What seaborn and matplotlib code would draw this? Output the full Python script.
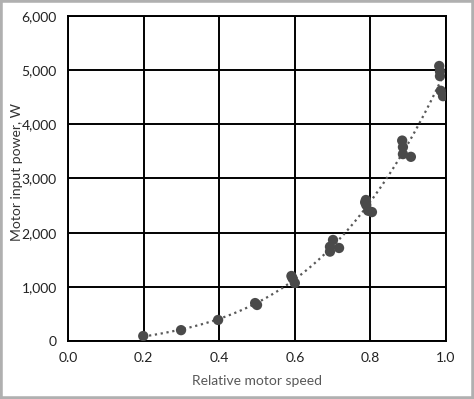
import numpy as np
import pandas as pd
import matplotlib
matplotlib.use('Agg')
import matplotlib.pyplot as plt
import seaborn as sns
from matplotlib.patches import Rectangle
from matplotlib.ticker import FuncFormatter, MultipleLocator

# ── Data ─────────────────────────────────────────────────────────────────────
speed = [0.199, 0.299, 0.397, 0.495, 0.500,
         0.591, 0.594, 0.600,
         0.693, 0.701, 0.693, 0.717,
         0.786, 0.788, 0.789, 0.794, 0.804,
         0.884, 0.886, 0.886, 0.907,
         0.982, 0.984, 0.984, 0.986, 0.992]
power = [92, 200, 388, 700, 665,
         1200, 1157, 1070,
         1740, 1865, 1650, 1717,
         2560, 2603, 2510, 2405, 2380,
         3700, 3580, 3450, 3400,
         5077, 4980, 4890, 4620, 4520]

df = pd.DataFrame({'speed': speed, 'power': power})

sns.set_theme(style='white')
plt.rcParams['font.family'] = ['Lato', 'DejaVu Sans']

fig = plt.figure(figsize=(4.74, 3.99), dpi=100)
ax = fig.add_axes([0.1435, 0.1454, 0.7975, 0.8145])

ax.grid(True, color='black', linewidth=1.4)
ax.set_axisbelow(True)

# cubic trendline, dotted
sns.regplot(data=df, x='speed', y='power', order=3, ci=None, scatter=False,
            ax=ax, line_kws={'color': '#595959', 'linestyle': ':', 'linewidth': 1.6})
sns.scatterplot(data=df, x='speed', y='power', ax=ax, color='#4a4a4a',
                s=55, edgecolor='none', zorder=3)

ax.set_xlim(0, 1.0)
ax.set_ylim(0, 6000)
ax.xaxis.set_major_locator(MultipleLocator(0.2))
ax.yaxis.set_major_locator(MultipleLocator(1000))
ax.xaxis.set_major_formatter(FuncFormatter(lambda v, p: f'{v:.1f}'))
ax.yaxis.set_major_formatter(FuncFormatter(lambda v, p: f'{v:,.0f}'))
ax.tick_params(axis='both', length=0, labelsize=10, colors='#222222', pad=8)

for s in ax.spines.values():
    s.set_color('black')
    s.set_linewidth(1.4)

ax.set_xlabel('Relative motor speed', fontsize=10, color='#595959', labelpad=8)
ax.set_ylabel('Motor input power, W', fontsize=10, color='#333333')
ax.yaxis.set_label_coords(-0.12, 0.52)

# gray frame round the whole picture
fig.patches.append(Rectangle((0, 0), 1, 1, transform=fig.transFigure,
                             fill=False, edgecolor='#b0b0b0', linewidth=4))

fig.savefig('out.png', dpi=100)
